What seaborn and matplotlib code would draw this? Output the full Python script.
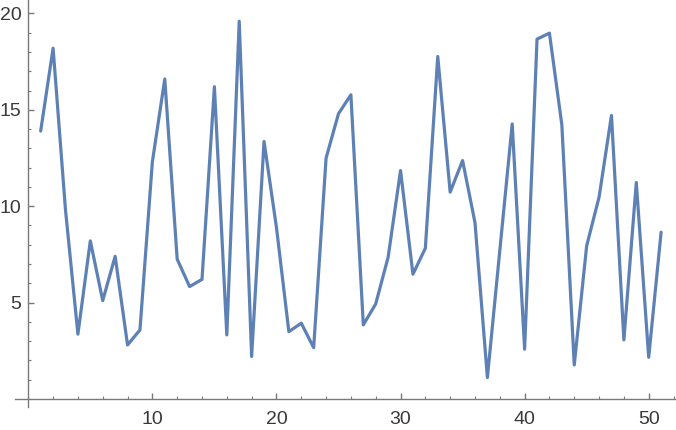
import matplotlib
matplotlib.use("Agg")
import matplotlib.pyplot as plt
from matplotlib.ticker import MultipleLocator
import seaborn as sns
import pandas as pd

x_values = list(range(1, 52))
y_values = [13.9, 18.2, 9.8, 3.36, 8.2, 5.1, 7.4, 2.8, 3.58, 12.3,
            16.6, 7.25, 5.83, 6.2, 16.2, 3.32, 19.6, 2.2, 13.36, 8.9,
            3.49, 3.93, 2.66, 12.5, 14.8, 15.78, 3.84, 4.93, 7.35, 11.85,
            6.47, 7.82, 17.77, 10.73, 12.37, 9.15, 1.11, 7.7, 14.27, 2.58,
            18.67, 18.98, 14.22, 1.76, 7.94, 10.47, 14.71, 3.06, 11.23, 2.16,
            8.65]

df = pd.DataFrame({"x": x_values, "y": y_values})

sns.set_style("white")
plt.rcParams['font.family'] = ['Liberation Sans', 'DejaVu Sans']

fig = plt.figure(figsize=(6.76, 4.30), dpi=100)
W, H = 676, 430
left_px, right_px, top_px, bottom_px = 15, 676, 0, 407
ax = fig.add_axes([left_px / W, 1 - bottom_px / H, (right_px - left_px) / W, (bottom_px - top_px) / H])

sns.lineplot(data=df, x="x", y="y", ax=ax, color="#5E81B5", linewidth=2.3)

ax.set_xlim(-1.07, 52.2)
ax.set_ylim(-0.42, 20.7)

axis_color = "#7a7a7a"
for s in ["top", "right"]:
    ax.spines[s].set_visible(False)
ax.spines["left"].set_position(("data", 0))
ax.spines["bottom"].set_position(("data", 0))
for s in ["left", "bottom"]:
    ax.spines[s].set_color(axis_color)
    ax.spines[s].set_linewidth(1.0)

ax.xaxis.set_major_locator(MultipleLocator(10))
ax.xaxis.set_minor_locator(MultipleLocator(2))
ax.yaxis.set_major_locator(MultipleLocator(5))
ax.yaxis.set_minor_locator(MultipleLocator(1))

ax.set_xticks([10, 20, 30, 40, 50])
ax.set_yticks([5, 10, 15, 20])

ax.tick_params(axis="x", which="major", direction="in", length=4, width=1, color=axis_color,
               labelsize=14, labelcolor="#3a3a3a", pad=9, bottom=True)
ax.tick_params(axis="x", which="minor", direction="in", length=2.5, width=0.8, color=axis_color, bottom=True)
ax.tick_params(axis="y", which="major", direction="in", length=4, width=1, color=axis_color,
               labelsize=14, labelcolor="#3a3a3a", pad=5, left=True)
ax.tick_params(axis="y", which="minor", direction="in", length=2.5, width=0.8, color=axis_color, left=True)

ax.set_xlabel("")
ax.set_ylabel("")
ax.grid(False)

fig.savefig("out.png", dpi=100)
